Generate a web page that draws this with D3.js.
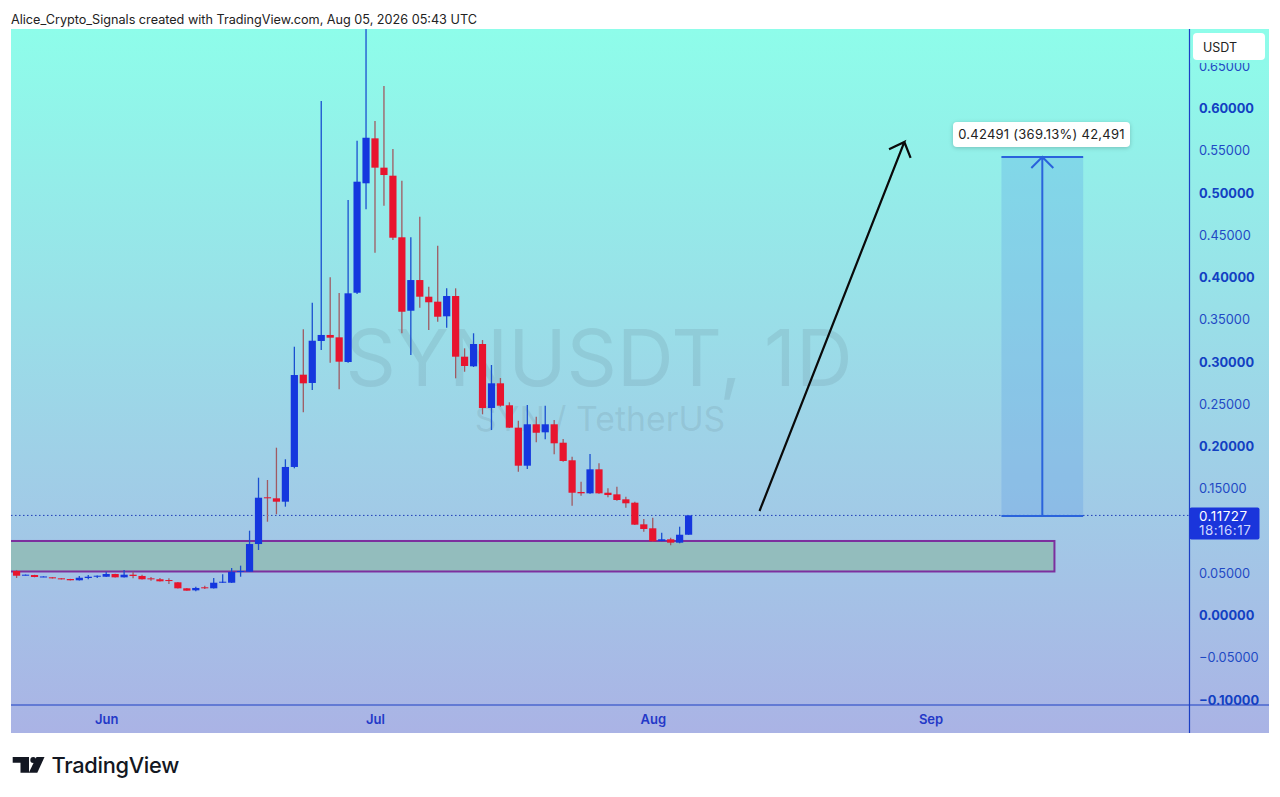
<!DOCTYPE html>
<html lang="en">
  <head>
    <meta charset="UTF-8" />
    <title>SYNUSDT, 1D</title>
    <style>
      body {
        margin: 0;
        background: #fff;
        overflow: hidden;
      }
      text {
        font-family: Inter, "Noto Sans", sans-serif;
      }
      .price-axis text {
        font-size: 12.8px;
        fill: #1f49c4;
      }
      .price-axis text.major {
        font-weight: 700;
        fill: #1240c2;
      }
      .time-axis text {
        font-size: 13px;
        font-weight: 600;
        fill: #2338c8;
      }
    </style>
  </head>
  <body>
    <svg id="chart" width="1280" height="797"></svg>
    <script src="https://d3js.org/d3.v7.min.js"></script>
    <script>
      // daily candles, first one is 22 May
      const firstDay = "2026-05-22";
      const opens = [
        0.0515, 0.0464, 0.0467, 0.0444, 0.044, 0.0428, 0.042, 0.0405, 0.0432, 0.0447,
        0.0447, 0.0479, 0.044, 0.0471, 0.0456, 0.0428, 0.0417, 0.0408, 0.0381, 0.031,
        0.0286, 0.0322, 0.031, 0.0376, 0.0376, 0.0503, 0.0506, 0.0834, 0.1387, 0.1375,
        0.1335, 0.1746, 0.2838, 0.274, 0.3237, 0.3308, 0.328, 0.2988, 0.3808, 0.5103,
        0.5635, 0.5288, 0.5193, 0.4464, 0.3595, 0.3958, 0.3761, 0.3702, 0.3529, 0.3769,
        0.3051, 0.2937, 0.3201, 0.2444, 0.2736, 0.2476, 0.2211, 0.1761, 0.2251, 0.2156,
        0.2251, 0.2033, 0.1825, 0.145, 0.1434, 0.1718, 0.1441, 0.1422, 0.1363, 0.1323,
        0.1067, 0.102, 0.087, 0.089, 0.085, 0.0944,
      ];
      const highs = [
        0.0527, 0.0473, 0.047, 0.0452, 0.0442, 0.043, 0.0422, 0.0456, 0.0467, 0.0462,
        0.0506, 0.0482, 0.0527, 0.0506, 0.0471, 0.0444, 0.0432, 0.0428, 0.0384, 0.0313,
        0.0329, 0.0341, 0.0432, 0.0476, 0.055, 0.0578, 0.0992, 0.1619, 0.1592, 0.1974,
        0.1837, 0.3169, 0.3375, 0.369, 0.6077, 0.399, 0.3805, 0.4905, 0.5607, 0.72,
        0.584, 0.6254, 0.5509, 0.5134, 0.4464, 0.4708, 0.3879, 0.4364, 0.386, 0.386,
        0.315, 0.3328, 0.3248, 0.2953, 0.2799, 0.2511, 0.2293, 0.2479, 0.2341, 0.2471,
        0.2302, 0.2077, 0.1867, 0.1572, 0.1899, 0.1789, 0.1493, 0.1512, 0.1394, 0.1335,
        0.113, 0.1146, 0.0968, 0.0909, 0.1039, 0.1173,
      ];
      const lows = [
        0.0432, 0.0462, 0.044, 0.0442, 0.0426, 0.0415, 0.0403, 0.0403, 0.0417, 0.0432,
        0.0445, 0.0438, 0.0438, 0.0428, 0.0415, 0.04, 0.0391, 0.0361, 0.0308, 0.028,
        0.0275, 0.0302, 0.0308, 0.0373, 0.0373, 0.0447, 0.0503, 0.0763, 0.1098, 0.1186,
        0.1276, 0.173, 0.2393, 0.2657, 0.313, 0.298, 0.2665, 0.298, 0.3793, 0.4795,
        0.4282, 0.4838, 0.4432, 0.3328, 0.3071, 0.3631, 0.3367, 0.3465, 0.3394, 0.2795,
        0.2873, 0.2929, 0.2369, 0.2183, 0.2459, 0.2207, 0.169, 0.1722, 0.2038, 0.2073,
        0.1896, 0.1808, 0.1288, 0.1406, 0.143, 0.143, 0.1387, 0.1347, 0.1264, 0.1059,
        0.098, 0.0862, 0.0866, 0.0819, 0.0843, 0.0944,
      ];
      const closes = [
        0.0459, 0.0471, 0.0444, 0.045, 0.0428, 0.0417, 0.0405, 0.0435, 0.0447, 0.0459,
        0.0479, 0.044, 0.0471, 0.0456, 0.0417, 0.042, 0.0393, 0.0396, 0.031, 0.0282,
        0.0314, 0.031, 0.0376, 0.0388, 0.0503, 0.0515, 0.0834, 0.1382, 0.1379, 0.1335,
        0.1746, 0.2834, 0.2736, 0.324, 0.3308, 0.3276, 0.2992, 0.3801, 0.5122, 0.5642,
        0.5288, 0.5201, 0.4459, 0.3583, 0.3958, 0.3761, 0.3695, 0.3524, 0.3769, 0.3051,
        0.2941, 0.3201, 0.2444, 0.2736, 0.2471, 0.2211, 0.1761, 0.2251, 0.2151, 0.2251,
        0.2026, 0.1817, 0.1441, 0.1434, 0.1718, 0.1434, 0.1414, 0.1355, 0.1316, 0.1063,
        0.1012, 0.0866, 0.089, 0.085, 0.0944, 0.1173,
      ];
      const priceTicks = [
        0.65, 0.6, 0.55, 0.5, 0.45, 0.4, 0.35, 0.3, 0.25, 0.2, 0.15, 0.05, 0, -0.05, -0.1,
      ];
      const majorTicks = [0.6, 0.5, 0.4, 0.3, 0.2, 0, -0.1];
      const monthTicks = ["2026-06-01", "2026-07-01", "2026-08-01", "2026-09-01"];
      const lastPrice = 0.11727;

      // drawings on the chart
      const zone = { from: "2026-05-01", to: "2026-09-14T20:00Z", top: 0.087, bottom: 0.0509 };
      const position = { from: "2026-09-08T22:00Z", to: "2026-09-18T01:00Z", top: 0.5415, bottom: 0.1166 };
      const bigArrow = { from: "2026-08-12T22:00Z", to: "2026-08-29T02:00Z", start: 0.1225, end: 0.5592 };

      const candles = opens.map((open, i) => ({
        date: d3.utcDay.offset(new Date(firstDay), i),
        open,
        high: highs[i],
        low: lows[i],
        close: closes[i],
      }));

      const pane = { left: 11, right: 1189.5, top: 29, bottom: 705, outerRight: 1269, outerBottom: 733 };
      const blue = "#1537de";
      const red = "#e8142e";

      const x = d3
        .scaleUtc()
        .domain([new Date(firstDay), new Date(monthTicks[3])])
        .range([16.6, 930.5]);
      const y = d3.scaleLinear().domain([0, 0.6]).range([614.5, 107.5]);

      const svg = d3.select("#chart");
      const defs = svg.append("defs");

      const grad = defs
        .append("linearGradient")
        .attr("id", "bg")
        .attr("x1", 0)
        .attr("y1", 0)
        .attr("x2", 0)
        .attr("y2", 1);
      grad.append("stop").attr("offset", 0).attr("stop-color", "#8efdea");
      grad.append("stop").attr("offset", 1).attr("stop-color", "#aab3e5");

      defs
        .append("clipPath")
        .attr("id", "paneClip")
        .append("rect")
        .attr("x", pane.left)
        .attr("y", pane.top)
        .attr("width", pane.right - pane.left)
        .attr("height", pane.bottom - pane.top);

      svg
        .append("text")
        .attr("x", 11)
        .attr("y", 23.5)
        .attr("font-size", 12.65)
        .attr("fill", "#222")
        .text("Alice_Crypto_Signals created with TradingView.com, Aug 05, 2026 05:43 UTC");

      svg
        .append("rect")
        .attr("x", pane.left)
        .attr("y", pane.top)
        .attr("width", pane.outerRight - pane.left)
        .attr("height", pane.outerBottom - pane.top)
        .attr("fill", "url(#bg)");

      // watermark
      svg
        .append("text")
        .attr("x", 599)
        .attr("y", 386)
        .attr("text-anchor", "middle")
        .attr("font-size", 78.5)
        .attr("fill", "#5f7a86")
        .attr("fill-opacity", 0.17)
        .text("SYNUSDT, 1D");
      svg
        .append("text")
        .attr("x", 600)
        .attr("y", 431)
        .attr("text-anchor", "middle")
        .attr("font-size", 33.8)
        .attr("fill", "#5f7a86")
        .attr("fill-opacity", 0.17)
        .text("SYN / TetherUS");

      const plot = svg.append("g").attr("clip-path", "url(#paneClip)");

      // last price line
      plot
        .append("line")
        .attr("x1", pane.left)
        .attr("x2", pane.right)
        .attr("y1", y(lastPrice))
        .attr("y2", y(lastPrice))
        .attr("stroke", "#1f3fb8")
        .attr("stroke-width", 1)
        .attr("stroke-dasharray", "1.5 2.5");

      // support zone
      plot
        .append("rect")
        .attr("x", x(new Date(zone.from)))
        .attr("y", y(zone.top))
        .attr("width", x(new Date(zone.to)) - x(new Date(zone.from)))
        .attr("height", y(zone.bottom) - y(zone.top))
        .attr("fill", "#93bdbd")
        .attr("stroke", "#7c2f9e")
        .attr("stroke-width", 2);

      // candles
      const candle = plot
        .selectAll("g.candle")
        .data(candles)
        .enter()
        .append("g")
        .attr("class", "candle");

      candle
        .append("line")
        .attr("x1", (d) => x(d.date))
        .attr("x2", (d) => x(d.date))
        .attr("y1", (d) => y(d.high))
        .attr("y2", (d) => y(d.low))
        .attr("stroke", (d) => (d.close >= d.open ? "#1a4fd0" : "#a05a62"))
        .attr("stroke-width", 1.3);

      candle
        .append("rect")
        .attr("x", (d) => x(d.date) - 3.6)
        .attr("width", 7.2)
        .attr("y", (d) => y(Math.max(d.open, d.close)))
        .attr("height", (d) => Math.max(1, Math.abs(y(d.open) - y(d.close))))
        .attr("fill", (d) => (d.close >= d.open ? blue : red));

      // long position box
      const posX0 = x(new Date(position.from));
      const posX1 = x(new Date(position.to));
      const posMid = (posX0 + posX1) / 2;
      const posTop = y(position.top);
      const posBottom = y(position.bottom);
      const posG = plot.append("g");
      posG
        .append("rect")
        .attr("x", posX0)
        .attr("y", posTop)
        .attr("width", posX1 - posX0)
        .attr("height", posBottom - posTop)
        .attr("fill", "#4a90e8")
        .attr("fill-opacity", 0.24);
      posG
        .selectAll("line.edge")
        .data([posTop, posBottom])
        .enter()
        .append("line")
        .attr("class", "edge")
        .attr("x1", posX0)
        .attr("x2", posX1)
        .attr("y1", (d) => d)
        .attr("y2", (d) => d)
        .attr("stroke", "#2a63dc")
        .attr("stroke-width", 2);
      posG
        .append("path")
        .attr(
          "d",
          `M${posMid},${posBottom}V${posTop}M${posMid - 11},${posTop + 11}L${posMid},${posTop}L${posMid + 11},${posTop + 11}`
        )
        .attr("fill", "none")
        .attr("stroke", "#2a63dc")
        .attr("stroke-width", 2);

      const labelG = svg.append("g");
      labelG
        .append("rect")
        .attr("x", 953)
        .attr("y", 122)
        .attr("width", 177)
        .attr("height", 25)
        .attr("rx", 4)
        .attr("fill", "#fff")
        .style("filter", "drop-shadow(0 1px 2px rgba(0,0,0,0.2))");
      labelG
        .append("text")
        .attr("x", 1041.5)
        .attr("y", 139)
        .attr("text-anchor", "middle")
        .attr("font-size", 13)
        .attr("letter-spacing", 0.25)
        .attr("fill", "#222")
        .text("0.42491 (369.13%) 42,491");

      // big black arrow
      const ax0 = x(new Date(bigArrow.from));
      const ay0 = y(bigArrow.start);
      const ax1 = x(new Date(bigArrow.to));
      const ay1 = y(bigArrow.end);
      const ang = Math.atan2(ay1 - ay0, ax1 - ax0);
      const headLen = 17;
      const wing = (a) =>
        `L${ax1 - headLen * Math.cos(ang + a)},${ay1 - headLen * Math.sin(ang + a)}`;
      plot
        .append("path")
        .attr(
          "d",
          `M${ax0},${ay0}L${ax1},${ay1}${wing(0.75)}M${ax1},${ay1}${wing(-0.75)}`
        )
        .attr("fill", "none")
        .attr("stroke", "#0a0a0a")
        .attr("stroke-width", 2.2);

      // axes
      const priceAxis = d3
        .axisRight(y)
        .tickValues(priceTicks)
        .tickFormat(d3.format(".5f"))
        .tickSize(0)
        .tickPadding(9.5);
      const priceG = svg
        .append("g")
        .attr("class", "price-axis")
        .attr("transform", `translate(${pane.right},1)`)
        .call(priceAxis);
      priceG.select(".domain").remove();
      priceG.selectAll("text").classed("major", (d) => majorTicks.includes(d));

      const timeAxis = d3
        .axisBottom(x)
        .tickValues(monthTicks.map((d) => new Date(d)))
        .tickFormat(d3.utcFormat("%b"))
        .tickSize(0)
        .tickPadding(10);
      const timeG = svg
        .append("g")
        .attr("class", "time-axis")
        .attr("transform", `translate(0,${pane.bottom})`)
        .call(timeAxis);
      timeG.select(".domain").remove();

      svg
        .append("line")
        .attr("x1", pane.right)
        .attr("x2", pane.right)
        .attr("y1", pane.top)
        .attr("y2", pane.outerBottom)
        .attr("stroke", "#1c3fc4")
        .attr("stroke-width", 1.2);
      svg
        .append("line")
        .attr("x1", pane.left)
        .attr("x2", pane.outerRight)
        .attr("y1", pane.bottom)
        .attr("y2", pane.bottom)
        .attr("stroke", "#1c3fc4")
        .attr("stroke-width", 1.2);

      // USDT button, its margin cuts the top off the 0.65 label
      svg
        .append("rect")
        .attr("x", 1190.5)
        .attr("y", 58)
        .attr("width", 78)
        .attr("height", 5)
        .attr("fill", "#8ff9ea");
      svg
        .append("rect")
        .attr("x", 1193)
        .attr("y", 33)
        .attr("width", 72)
        .attr("height", 27)
        .attr("rx", 4)
        .attr("fill", "#fff");
      svg
        .append("text")
        .attr("x", 1203)
        .attr("y", 51.5)
        .attr("font-size", 12.5)
        .attr("fill", "#222")
        .text("USDT");

      // last price tag
      svg
        .append("rect")
        .attr("x", pane.right)
        .attr("y", y(lastPrice) - 8)
        .attr("width", 70)
        .attr("height", 32)
        .attr("rx", 2)
        .attr("fill", "#1a35db");
      svg
        .append("text")
        .attr("x", 1199)
        .attr("y", y(lastPrice) + 5.5)
        .attr("font-size", 13.4)
        .attr("letter-spacing", 0.5)
        .attr("fill", "#fff")
        .text(d3.format(".5f")(lastPrice));
      svg
        .append("text")
        .attr("x", 1199)
        .attr("y", y(lastPrice) + 20)
        .attr("font-size", 13.4)
        .attr("letter-spacing", 0.5)
        .attr("fill", "#cfd8ff")
        .text("18:16:17");

      // TradingView logo
      const logo = svg.append("g").attr("fill", "#131722");
      logo.append("path").attr("d", "M12.7,757H29V772.7H20.5V762.7H12.7Z");
      logo.append("circle").attr("cx", 33.2).attr("cy", 760).attr("r", 2.9);
      logo.append("path").attr("d", "M36.5,757H44.5L37.3,772.7H28.8Z");
      svg
        .append("text")
        .attr("x", 51.5)
        .attr("y", 773)
        .attr("font-size", 21.8)
        .attr("font-weight", 500)
        .attr("letter-spacing", -0.3)
        .attr("fill", "#131722")
        .text("TradingView");
    </script>
  </body>
</html>
